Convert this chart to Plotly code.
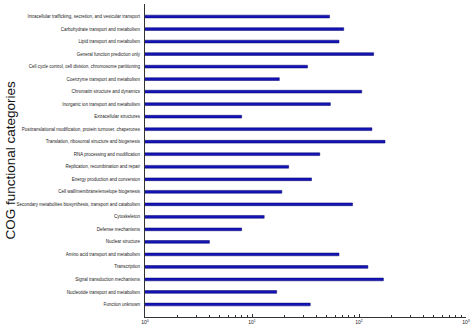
import plotly.graph_objects as go

categories = [
    "Intracellular trafficking, secretion, and vesicular transport",
    "Carbohydrate transport and metabolism",
    "Lipid transport and metabolism",
    "General function prediction only",
    "Cell cycle control, cell division, chromosome partitioning",
    "Coenzyme transport and metabolism",
    "Chromatin structure and dynamics",
    "Inorganic ion transport and metabolism",
    "Extracellular structures",
    "Posttranslational modification, protein turnover, chaperones",
    "Translation, ribosomal structure and biogenesis",
    "RNA processing and modification",
    "Replication, recombination and repair",
    "Energy production and conversion",
    "Cell wall/membrane/envelope biogenesis",
    "Secondary metabolites biosynthesis, transport and catabolism",
    "Cytoskeleton",
    "Defense mechanisms",
    "Nuclear structure",
    "Amino acid transport and metabolism",
    "Transcription",
    "Signal transduction mechanisms",
    "Nucleotide transport and metabolism",
    "Function unknown",
]
counts = [53, 72, 65, 137, 33, 18, 106, 54, 8, 132, 175, 43, 22, 36, 19, 87,
          13, 8, 4, 65, 121, 169, 17, 35]
positions = list(range(1, len(categories) + 1))
x_tickvals = [1, 10, 100, 1000]
x_ticktext = ["10<sup>0</sup>", "10<sup>1</sup>", "10<sup>2</sup>", "10<sup>3</sup>"]
minor_vals = [m * 10 ** e for e in range(3) for m in range(2, 10)]
y_title = "COG functional categories"

fig = go.Figure(go.Bar(
    x=counts, y=positions, orientation="h", width=0.22,
    marker=dict(color="#1414b8", line=dict(color="#000066", width=0.5)),
))

fig.update_layout(
    width=474, height=334,
    margin=dict(l=145, r=8, t=4, b=17),
    paper_bgcolor="white", plot_bgcolor="white",
    showlegend=False,
    font=dict(family="Liberation Sans, Arial", color="#222"),
    xaxis=dict(
        type="log", range=[0, 3],
        tickvals=x_tickvals, ticktext=x_ticktext,
        tickfont=dict(size=5), ticks="inside", ticklen=3, tickcolor="#333",
        showline=True, linecolor="#333", linewidth=1, showgrid=False, zeroline=False,
        minor=dict(tickvals=minor_vals, ticks="inside", ticklen=2, tickcolor="#333", showgrid=False),
    ),
    yaxis=dict(
        range=[25, 0], tickvals=positions, ticktext=categories,
        tickfont=dict(size=4.5), ticks="", showline=True, linecolor="#333", linewidth=1,
        showgrid=False, zeroline=False, ticklabelstandoff=3,
    ),
    annotations=[dict(
        text=y_title, xref="paper", yref="paper",
        x=(10 - 145) / 321, y=0.5, textangle=-90, showarrow=False,
        font=dict(size=13.5, color="#111"), xanchor="center", yanchor="middle",
    )],
)

fig.write_html("out.html")
